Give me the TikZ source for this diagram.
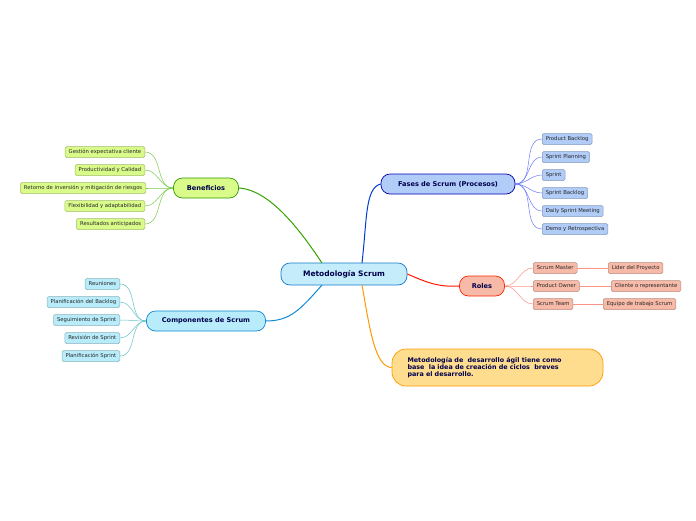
\documentclass[tikz,border=0pt]{standalone}
\usepackage{fontspec}
\setmainfont{DejaVu Sans}
\begin{document}
\begin{tikzpicture}[x=1pt,y=-1pt,
 leaf/.style={draw=#1!75!black,fill=#1,rounded corners=1.5pt,font=\fontsize{5.3}{6}\selectfont,text=black!85,inner xsep=3.5pt,inner ysep=0pt,minimum height=11pt,line width=0.5pt},
 main/.style={draw=#1!70!black,fill=#1,rounded corners=9pt,font=\bfseries\fontsize{6.6}{7.5}\selectfont,minimum height=20pt,line width=0.7pt,text=blue!30!black},
 lk/.style={draw=#1,line width=0.5pt},
 bk/.style={draw=#1,line width=1pt}]
\definecolor{cen}{HTML}{C5ECFA}
\definecolor{fas}{HTML}{B0CCF7}
\definecolor{rol}{HTML}{F7B9A8}
\definecolor{not}{HTML}{FEDD8F}
\definecolor{ben}{HTML}{D9FB8A}
\definecolor{com}{HTML}{B8ECFA}
\useasboundingbox (0,0) rectangle (696,520);
\node[main=cen,minimum width=126pt,minimum height=22pt,font=\bfseries\fontsize{7.5}{9}\selectfont,draw=cyan!60!blue] (c) at (344,274) {Metodología Scrum};
\node[main=fas,minimum width=134pt,draw=blue!70!black] (f) at (448,184) {Fases de Scrum (Procesos)};
\node[main=rol,minimum width=45pt,draw=red!70!orange] (r) at (482,286) {Roles};
\node[main=ben,minimum width=65pt,draw=green!50!black!80!yellow] (b) at (206,188) {Beneficios};
\node[main=com,minimum width=119pt,draw=cyan!70!blue] (k) at (206,321) {Componentes de Scrum};
\node[main=not,minimum width=211pt,minimum height=37pt,draw=orange!80!yellow,align=left,text width=180pt,rounded corners=14pt,font=\bfseries\fontsize{6.4}{7.3}\selectfont] (n) at (497.5,367.5) {Metodología de\ \ desarrollo ágil tiene como\\ base\ \ la idea de creación de ciclos\ \ breves\\ para el desarrollo.};
\draw[bk=green!55!black!80!yellow] (322,263) .. controls (300,230) and (270,190) .. (b.east);
\draw[bk=blue!70!cyan!80!black] (362,263) .. controls (367,220) and (365,188) .. (f.west);
\draw[bk=red!80!orange] (c.east) .. controls (430,284) and (440,287) .. (r.west);
\draw[bk=orange!80!yellow] (362,285) .. controls (370,330) and (375,367) .. (n.west);
\draw[bk=cyan!70!blue] (322,285) .. controls (300,310) and (290,321) .. (k.east);
\foreach \t/\xx/\yy [count=\i] in {Gestión expectativa cliente/145/152,Productividad y Calidad/145/170,Retorno de inversión y mitigación de riesgos/146/188,Flexibilidad y adaptabilidad/145/206,Resultados anticipados/145/224}{
 \node[leaf=ben,anchor=east] (b\i) at (\xx,\yy) {\t};
 \draw[lk=ben!70!green!80!black] (b.west) to[out=180,in=0] (b\i.east);}
\foreach \t/\yy [count=\i] in {Product Backlog/139,Sprint Planning/157,Sprint/175,Sprint Backlog/193,Daily Sprint Meeting/211,Demo y Retrospectiva/229}{
 \node[leaf=fas,anchor=west] (f\i) at (542,\yy) {\t};
 \draw[lk=fas!60!blue] (f.east) to[out=0,in=180] (f\i.west);}
\foreach \t/\yy [count=\i] in {Reuniones/284,Planificación del Backlog/302,Seguimiento de Sprint/320,Revisión de Sprint/338,Planificación Sprint/356}{
 \node[leaf=com,anchor=east] (k\i) at (120,\yy) {\t};
 \draw[lk=com!70!cyan!80!black] (k.west) to[out=180,in=0] (k\i.east);}
\foreach \t/\u/\xu/\yy [count=\i] in {Scrum Master/Lider del Proyecto/608/268,Product Owner/Cliente o representante/611/286,Scrum Team/Equipo de trabajo Scrum/603/304}{
 \node[leaf=rol,anchor=west] (r\i) at (533,\yy) {\t};
 \node[leaf=rol,anchor=west] (s\i) at (\xu,\yy) {\u};
 \draw[lk=rol!80!red] (r.east) to[out=0,in=180] (r\i.west);
 \draw[lk=rol!80!red] (r\i.east) -- (s\i.west);}
\end{tikzpicture}
\end{document}
